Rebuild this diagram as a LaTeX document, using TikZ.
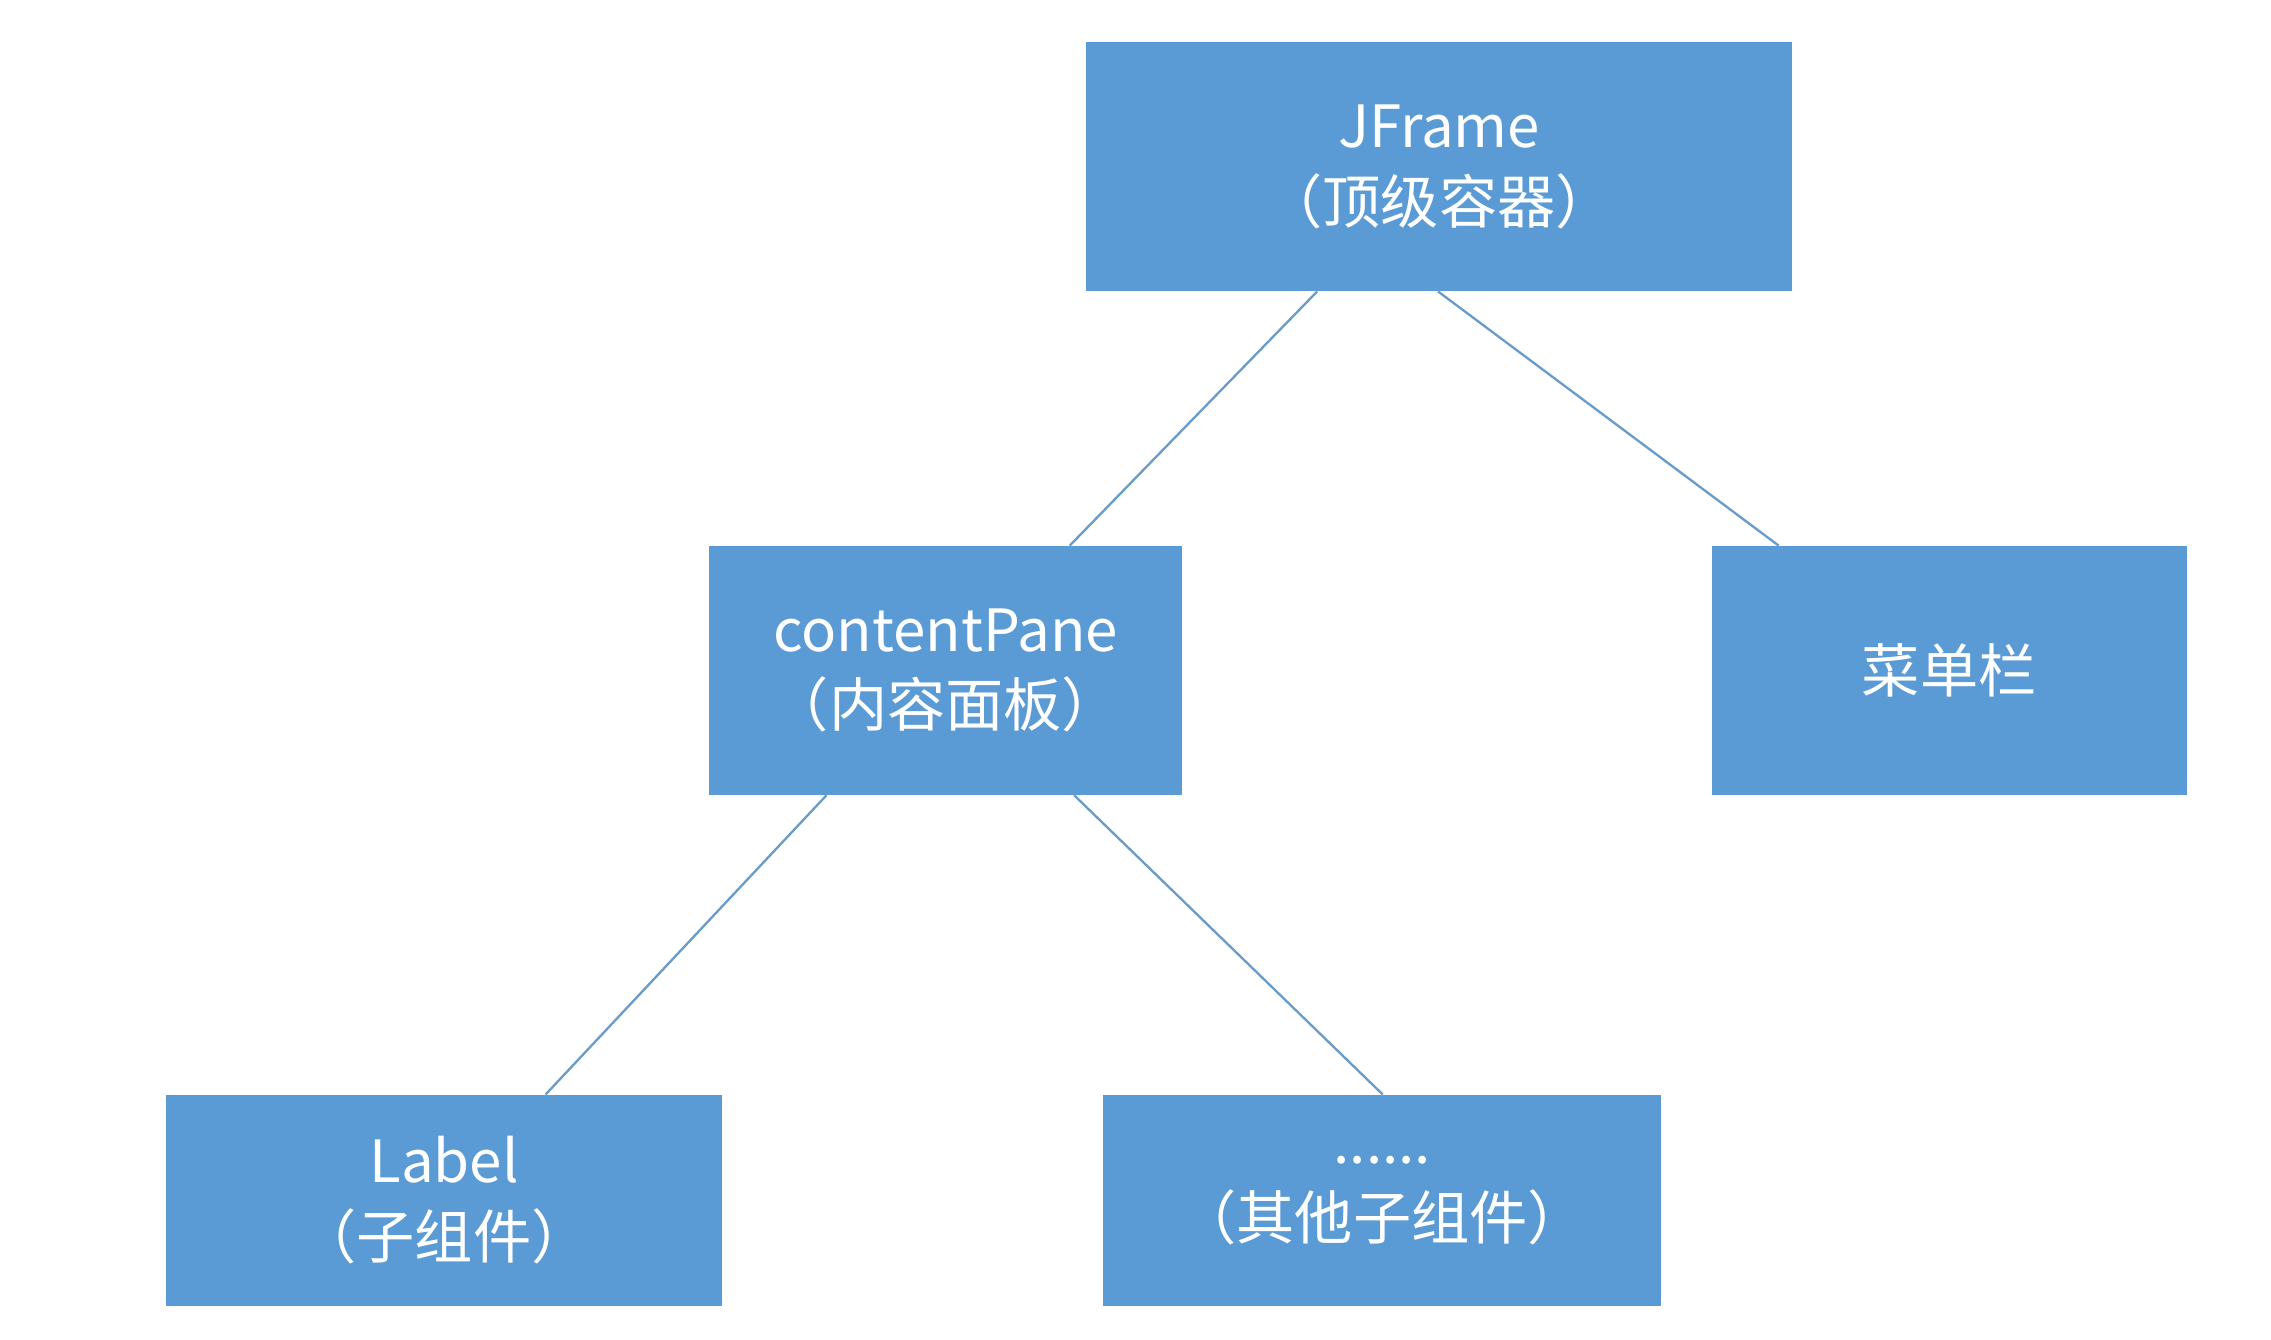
\documentclass[tikz,border=0pt]{standalone}
\usepackage{fontspec}
\setmainfont{Noto Sans CJK SC}
\usetikzlibrary{calc}
\definecolor{boxblue}{HTML}{5B9BD5}
\definecolor{linkblue}{HTML}{6A9CC9}
\tikzset{
  box/.style={draw=none,fill=boxblue,text=white,align=center,inner sep=0,
    font=\fontsize{40}{52}\selectfont},
  link/.style={draw=linkblue,line width=1.6pt}
}
\begin{document}
\begin{tikzpicture}[x=1pt,y=-1pt]
\useasboundingbox (0,0) rectangle (1560,920);
\node[box,minimum width=485pt,minimum height=171pt] (jf) at (988.5,114.5) {JFrame\\（顶级容器）};
\node[box,minimum width=325pt,minimum height=171pt] (cp) at (649.5,460.5) {contentPane\\（内容面板）};
\node[box,minimum width=326pt,minimum height=171pt] (mb) at (1339,460.5) {菜单栏};
\node[box,minimum width=382pt,minimum height=145pt] (lb) at (305,824.5) {Label\\（子组件）};
\node[box,minimum width=383pt,minimum height=145pt] (ot) at (949.5,824.5) {......\\（其他子组件）};
\draw[link] ($(jf.south west)+(159,0)$) -- ($(cp.north west)+(248,0)$);
\draw[link] ($(jf.south west)+(242,0)$) -- ($(mb.north west)+(46,0)$);
\draw[link] ($(cp.south west)+(81,0)$) -- ($(lb.north west)+(261,0)$);
\draw[link] ($(cp.south west)+(251,0)$) -- ($(ot.north west)+(192,0)$);
\end{tikzpicture}
\end{document}
